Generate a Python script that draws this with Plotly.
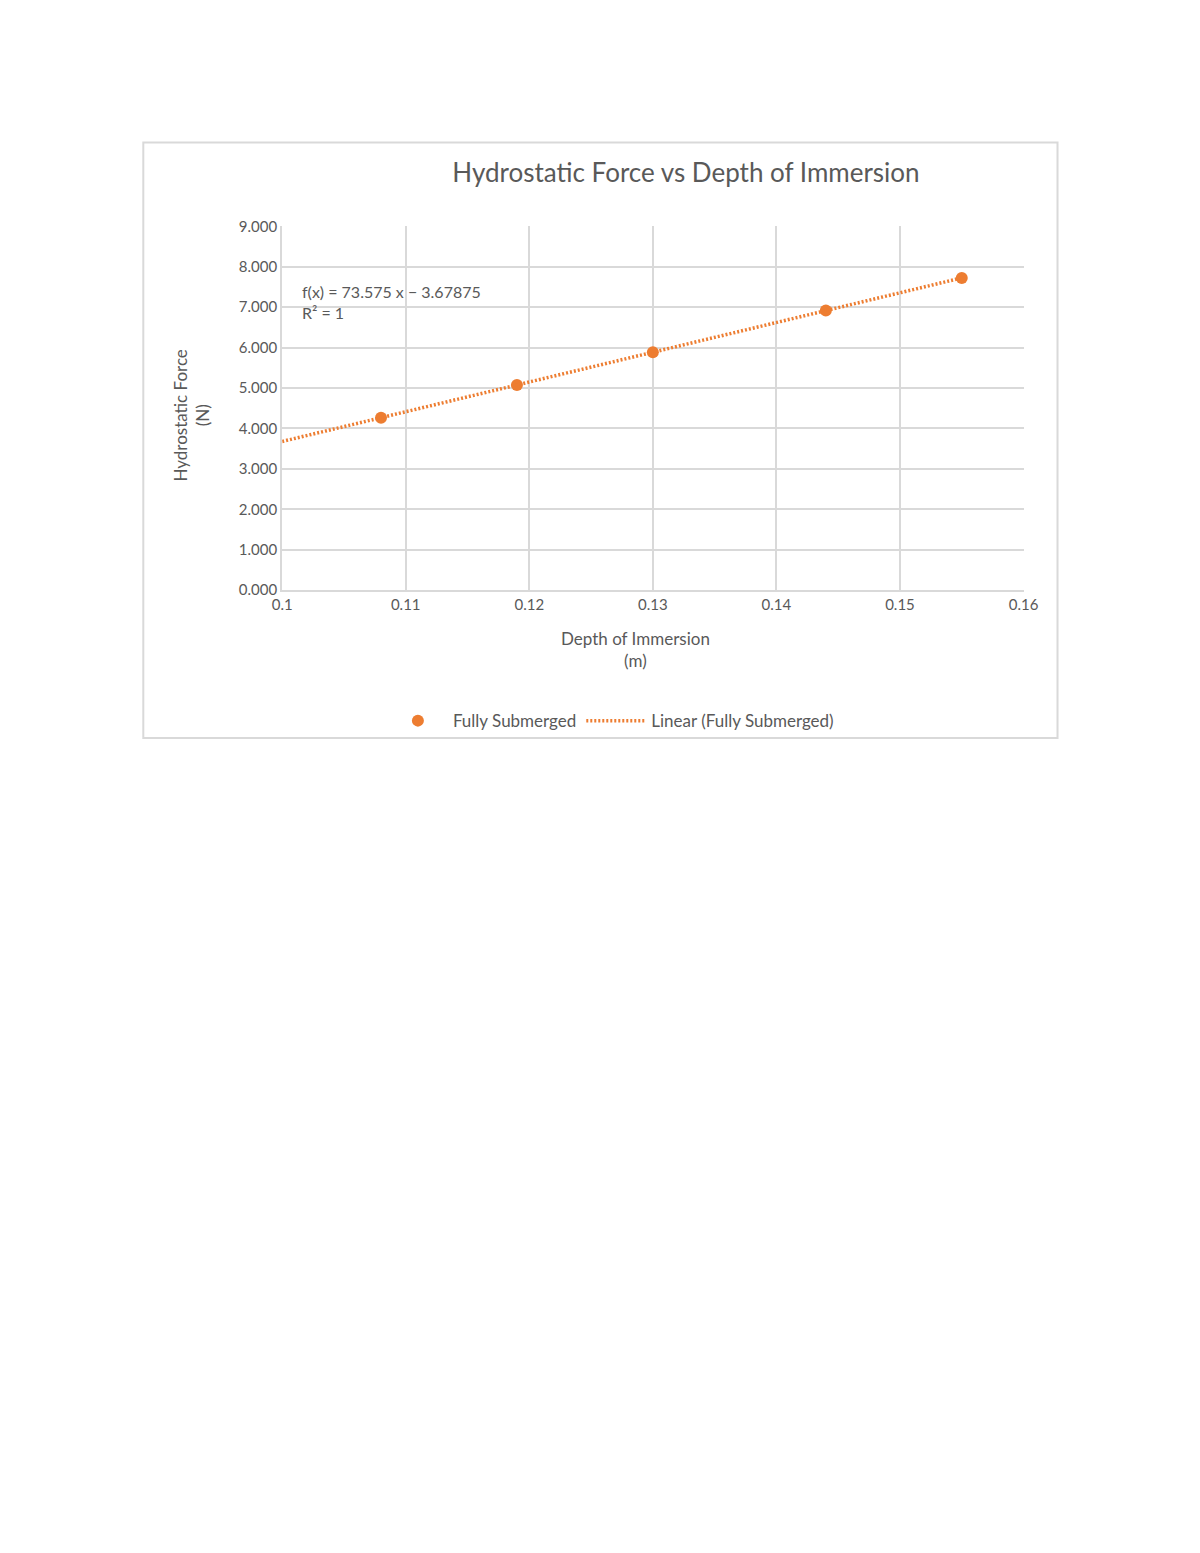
import numpy as np
import plotly.graph_objects as go

# depth of immersion (m) and hydrostatic force (N), fully submerged
depth = [0.108, 0.119, 0.130, 0.144, 0.155]
force = [4.267, 5.077, 5.886, 6.916, 7.725]

# linear trendline over the range shown
trend_x = [0.1, 0.155]
slope, intercept = np.polyfit(depth, force, 1)
trend_y = [slope * x + intercept for x in trend_x]

orange = '#ED7D31'
grey_txt = '#595959'
grid = '#D9D9D9'
fnt = 'Lato, Liberation Sans, sans-serif'

W, H = 1200, 1553


# the page is drawn slightly offset/scaled; map target pixels to paper coords
def px(p):
    return (p - 16.6) / 0.98 / W


def py(p):
    return 1 - (p - 17.5) / 0.989 / H


trace1 = go.Scatter(x=depth, y=force, mode='markers', name='Fully Submerged',
                    marker=dict(color=orange, size=12, symbol='circle'))
trace2 = go.Scatter(x=trend_x, y=trend_y, mode='lines', name='Linear (Fully Submerged)',
                    line=dict(color=orange, width=3.5, dash='2px,2px'))

layout = go.Layout(
    width=W, height=H,
    margin=dict(l=0, r=0, t=0, b=0),
    paper_bgcolor='white', plot_bgcolor='white',
    font=dict(family=fnt, color=grey_txt, size=15),
    title=dict(text='Hydrostatic Force vs Depth of Immersion', x=px(681), xanchor='center',
               y=py(181), yanchor='middle', font=dict(size=26, color=grey_txt)),
    xaxis=dict(domain=[px(281), px(1023)], range=[0.1, 0.16], dtick=0.01, tick0=0.1,
               showgrid=True, gridcolor=grid, gridwidth=2, zeroline=False,
               showline=True, linecolor=grid, linewidth=2, mirror=False,
               ticks='', tickfont=dict(size=15, color=grey_txt)),
    yaxis=dict(domain=[py(590), py(226)], range=[0, 9], dtick=1, tickformat='.3f',
               showgrid=True, gridcolor=grid, gridwidth=2, zeroline=False,
               showline=True, linecolor=grid, linewidth=2,
               ticks='', tickfont=dict(size=15, color=grey_txt)),
    showlegend=True,
    legend=dict(orientation='h', x=px(610), xanchor='center', y=py(721), yanchor='middle',
                bgcolor='rgba(0,0,0,0)',
                font=dict(size=17, color=grey_txt), itemwidth=60),
    annotations=[
        dict(text='f(x) = 73.575 x − 3.67875<br>R² = 1', xref='paper', yref='paper',
             x=px(299), y=py(302), xanchor='left', yanchor='middle', align='left',
             showarrow=False, font=dict(size=16, color=grey_txt)),
        dict(text='Depth of Immersion<br>(m)', xref='paper', yref='paper',
             x=px(635), y=py(649), xanchor='center', yanchor='middle',
             showarrow=False, font=dict(size=17, color=grey_txt)),
        dict(text='Hydrostatic Force<br>(N)', xref='paper', yref='paper', textangle=-90,
             x=px(190), y=py(415), xanchor='center', yanchor='middle',
             showarrow=False, font=dict(size=17, color=grey_txt)),
    ],
    shapes=[dict(type='rect', xref='paper', yref='paper',
                 x0=px(142), x1=px(1057), y0=py(738), y1=py(142),
                 line=dict(color=grid, width=2), layer='below')],
)

fig = go.Figure(data=[trace1, trace2], layout=layout)
fig.write_html('out.html')
